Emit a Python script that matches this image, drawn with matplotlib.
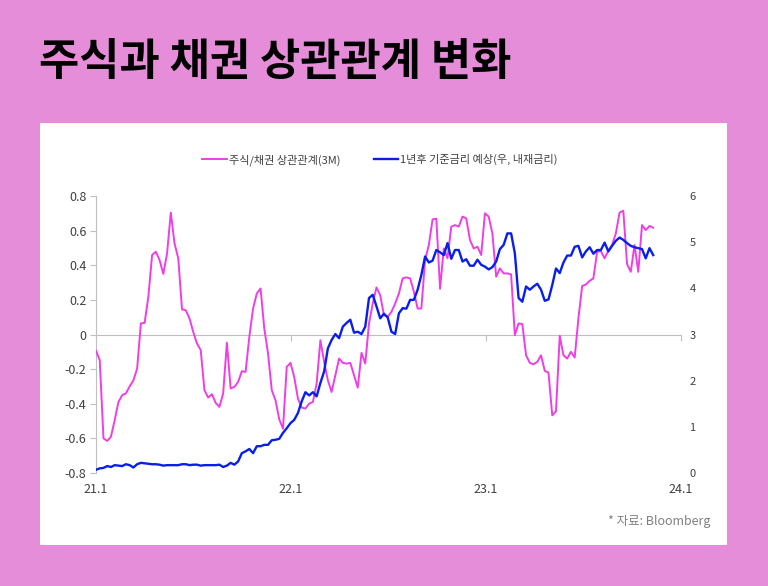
import numpy as np
import pandas as pd
import matplotlib
matplotlib.use("Agg")
import matplotlib.pyplot as plt

plt.rcParams['font.family'] = ['Noto Sans CJK KR', 'DejaVu Sans']

# weekly data
corr = [-0.094, -0.148, -0.60, -0.615, -0.59, -0.495, -0.39, -0.35, -0.34, -0.30,
        -0.265, -0.197, 0.064, 0.067, 0.218, 0.459, 0.478, 0.43, 0.35, 0.468,
        0.704, 0.526, 0.44, 0.145, 0.14, 0.093, 0.015, -0.052, -0.09, -0.322,
        -0.364, -0.345, -0.395, -0.418, -0.341, -0.048, -0.312, -0.303, -0.274, -0.212,
        -0.216, -0.013, 0.150, 0.237, 0.266, 0.035, -0.11, -0.322, -0.38, -0.49,
        -0.544, -0.187, -0.164, -0.245, -0.37, -0.422, -0.428, -0.399, -0.39, -0.283,
        -0.033, -0.158, -0.264, -0.332, -0.235, -0.139, -0.164, -0.168, -0.164, -0.235,
        -0.307, -0.106, -0.168, 0.064, 0.179, 0.272, 0.227, 0.112, 0.102, 0.131,
        0.179, 0.237, 0.324, 0.33, 0.324, 0.247, 0.150, 0.150, 0.43, 0.517,
        0.665, 0.669, 0.264, 0.497, 0.44, 0.623, 0.632, 0.623, 0.681, 0.671,
        0.546, 0.497, 0.507, 0.459, 0.70, 0.681, 0.584, 0.334, 0.382, 0.353,
        0.353, 0.347, -0.004, 0.064, 0.06, -0.12, -0.164, -0.172, -0.158, -0.12,
        -0.21, -0.22, -0.467, -0.443, -0.008, -0.12, -0.139, -0.10, -0.133, 0.093,
        0.28, 0.289, 0.31, 0.324, 0.478, 0.482, 0.44, 0.484, 0.517, 0.584,
        0.704, 0.715, 0.407, 0.362, 0.517, 0.362, 0.632, 0.603, 0.627, 0.617]

rate = [0.07, 0.10, 0.11, 0.15, 0.13, 0.17, 0.16, 0.15, 0.19, 0.17,
        0.12, 0.19, 0.22, 0.21, 0.20, 0.19, 0.19, 0.18, 0.16, 0.17,
        0.17, 0.17, 0.17, 0.19, 0.19, 0.17, 0.18, 0.18, 0.16, 0.17,
        0.17, 0.17, 0.17, 0.18, 0.13, 0.16, 0.22, 0.18, 0.25, 0.43,
        0.47, 0.52, 0.43, 0.58, 0.58, 0.61, 0.61, 0.71, 0.72, 0.74,
        0.87, 0.97, 1.08, 1.15, 1.30, 1.55, 1.75, 1.68, 1.75, 1.66,
        1.95, 2.20, 2.70, 2.88, 3.01, 2.92, 3.17, 3.25, 3.32, 3.04,
        3.06, 3.01, 3.17, 3.79, 3.86, 3.61, 3.35, 3.45, 3.37, 3.06,
        3.01, 3.46, 3.57, 3.56, 3.75, 3.75, 3.97, 4.29, 4.69, 4.56,
        4.60, 4.83, 4.78, 4.72, 4.98, 4.64, 4.83, 4.83, 4.58, 4.63,
        4.49, 4.49, 4.62, 4.51, 4.47, 4.41, 4.46, 4.58, 4.85, 4.94,
        5.19, 5.19, 4.76, 3.79, 3.71, 4.04, 3.97, 4.04, 4.10, 3.97,
        3.73, 3.76, 4.07, 4.43, 4.33, 4.56, 4.71, 4.71, 4.90, 4.92,
        4.67, 4.80, 4.89, 4.75, 4.83, 4.83, 4.99, 4.80, 4.92, 5.03,
        5.10, 5.05, 4.98, 4.92, 4.89, 4.87, 4.85, 4.65, 4.87, 4.72]

dates = pd.date_range("2021-01-01", periods=len(corr), freq="7D")
tick_dates = pd.to_datetime(["2021-01-01", "2022-01-01", "2023-01-01", "2024-01-01"])
tick_labels = ["21.1", "22.1", "23.1", "24.1"]
left_ticks = np.round(np.arange(-0.8, 0.81, 0.2), 1)

pink = '#EE3FE6'
blue = '#0A1EEB'
grey = '#404040'

fig = plt.figure(figsize=(7.68, 5.86), dpi=100)
fig.patch.set_facecolor('#E58DD9')

# white panel behind the chart
panel = fig.add_axes([40/768, 1-545/586, 687/768, 422/586])
panel.set_facecolor('white')
panel.set_xticks([])
panel.set_yticks([])
for s in panel.spines.values():
    s.set_visible(False)
panel.set_zorder(0)

fig.text(39/768, 1-62/586, "주식과 채권 상관관계 변화", fontsize=31.5,
         fontweight='bold', color='black', va='center', ha='left')

ax = fig.add_axes([96/768, 1-473/586, (681-96)/768, (473-196)/586])
ax.set_facecolor('none')
ax.set_zorder(2)
ax2 = ax.twinx()
ax2.set_zorder(3)

l1, = ax.plot(dates, corr, color=pink, lw=1.4, zorder=3)
l2, = ax2.plot(dates, rate, color=blue, lw=1.7, zorder=4)

ax.set_xlim(tick_dates[0], tick_dates[-1])
ax.set_ylim(-0.8, 0.8)
ax.set_yticks(left_ticks)
ax.set_yticklabels(["%.1f" % v if v != 0 else "0" for v in left_ticks])
ax2.set_ylim(0, 6)
ax2.set_yticks(range(0, 7))

for s in ['top', 'right']:
    ax.spines[s].set_visible(False)
for s in ['top', 'right', 'left', 'bottom']:
    ax2.spines[s].set_visible(False)
ax.spines['left'].set_color('#BFBFBF')
ax.spines['bottom'].set_color('#BFBFBF')
ax.spines['bottom'].set_position(('data', 0))

ax.set_xticks(tick_dates)
ax.set_xticklabels([])
ax.tick_params(axis='x', direction='out', length=4, color='#BFBFBF')
ax.tick_params(axis='y', direction='out', length=4, color='#BFBFBF',
               labelsize=9, labelcolor=grey, pad=3)
ax2.tick_params(axis='y', length=0, labelsize=8, labelcolor=grey, pad=6)

for d, lab in zip(tick_dates, tick_labels):
    ax.annotate(lab, xy=(d, 0), xycoords=('data', 'axes fraction'),
                xytext=(0, -7), textcoords='offset points',
                ha='center', va='top', fontsize=9, color=grey)

fig.legend([l1, l2], ["주식/채권 상관관계(3M)", "1년후 기준금리 예상(우, 내재금리)"],
           loc='center', bbox_to_anchor=(380/768, 1-160/586), ncol=2,
           frameon=False, fontsize=8, handlelength=2.2, handletextpad=0.2,
           columnspacing=3.0, labelcolor=grey)

fig.text(710/768, 1-521/586, "* 자료: Bloomberg", fontsize=9, color='#808080',
         ha='right', va='center')

plt.savefig("out.png", dpi=100, facecolor=fig.get_facecolor())
